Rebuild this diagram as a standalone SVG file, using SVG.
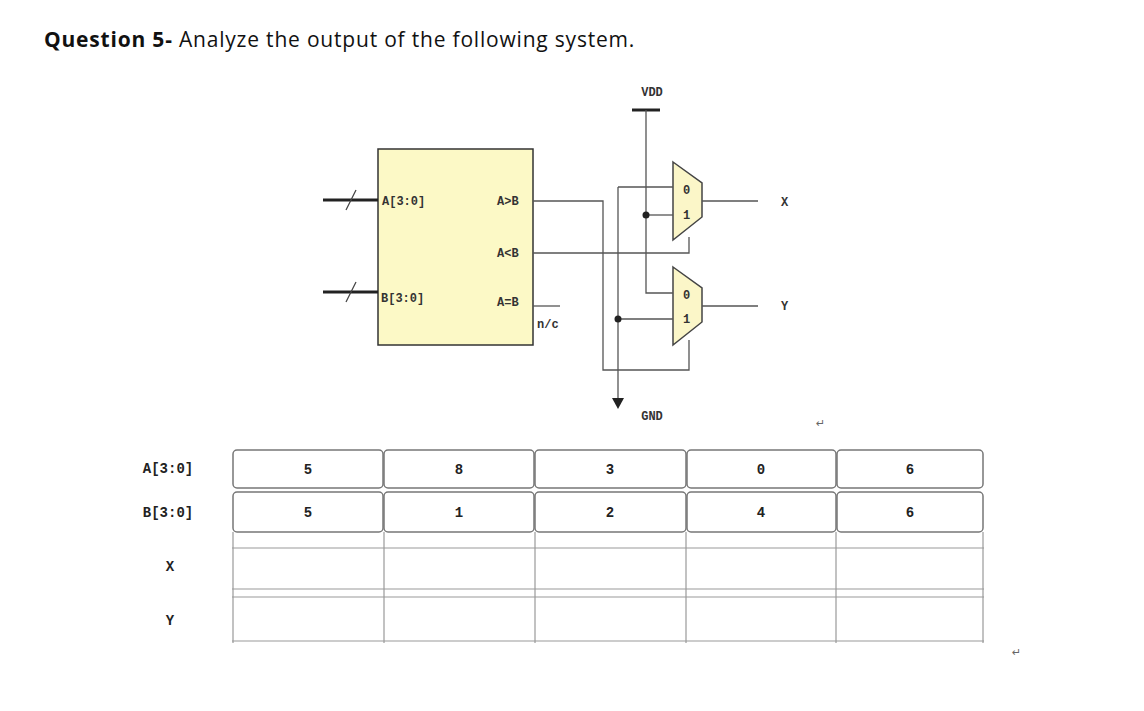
<svg xmlns="http://www.w3.org/2000/svg" width="1144" height="711" viewBox="0 0 1144 711">
<style>
.w{stroke:#555;stroke-width:1.3;fill:none}
.bus{stroke:#222;stroke-width:3;fill:none}
.m{font-family:"Liberation Mono",monospace;font-weight:bold;fill:#333;font-size:12px}
.c{font-family:"Liberation Mono",monospace;font-weight:bold;fill:#222;font-size:14px;text-anchor:middle}
.cell{fill:#fff;stroke:#777;stroke-width:1.5}
.g{stroke:#999;stroke-width:1.2}
.mux{fill:#fbf6c8;stroke:#444;stroke-width:1.5}
</style>
<rect width="1144" height="711" fill="#fff"/>
<text x="44" y="47" font-family="Open Sans,sans-serif" font-size="21" letter-spacing="0.8" fill="#111"><tspan font-weight="bold">Question 5-</tspan> Analyze the output of the following system.</text>
<g id="comparator">
<rect x="378" y="149" width="155" height="196" fill="#fcf9c6" stroke="#333" stroke-width="1.5"/>
<text class="m" x="382" y="205">A[3:0]</text>
<text class="m" x="381" y="302">B[3:0]</text>
<text class="m" x="497" y="205" font-size="10">A&gt;B</text>
<text class="m" x="497" y="257" font-size="10">A&lt;B</text>
<text class="m" x="497" y="306" font-size="10">A=B</text>
</g>
<g id="muxX"><path class="mux" d="M673,162 L702,183 L702,217 L673,240 Z"/><text class="m" x="683" y="194" font-size="10">0</text><text class="m" x="683" y="219" font-size="10">1</text></g>
<g id="muxY"><path class="mux" d="M673,267 L702,288 L702,322 L673,345 Z"/><text class="m" x="683" y="299" font-size="10">0</text><text class="m" x="683" y="323" font-size="10">1</text></g>
<g id="connectors">
<line class="bus" x1="323" y1="200" x2="378" y2="200"/><line x1="346" y1="210" x2="356" y2="190" stroke="#444" stroke-width="1.3"/>
<line class="bus" x1="323" y1="292" x2="378" y2="292"/><line x1="346" y1="302" x2="356" y2="282" stroke="#444" stroke-width="1.3"/>
<polyline class="w" points="533,201 603,201 603,370 689,370 689,340"/>
<polyline class="w" points="533,253 689,253 689,237"/>
<line class="w" x1="533" y1="306" x2="560" y2="306"/>
<line class="w" x1="618" y1="187" x2="618" y2="400"/>
<polygon points="612,398 624,398 618,409" fill="#222"/>
<line class="w" x1="618" y1="187" x2="673" y2="187"/>
<line class="w" x1="618" y1="319" x2="673" y2="319"/>
<circle cx="618" cy="319" r="3.5" fill="#222"/>
<line x1="632" y1="110" x2="660" y2="110" stroke="#222" stroke-width="3"/>
<polyline class="w" points="646,110 646,293 673,293"/>
<line class="w" x1="646" y1="215" x2="673" y2="215"/>
<circle cx="646" cy="215" r="3.5" fill="#222"/>
<line class="w" x1="702" y1="201" x2="758" y2="201"/>
<line class="w" x1="702" y1="306" x2="758" y2="306"/>
</g>
<text class="m" x="537" y="328">n/c</text>
<text class="m" x="652" y="96" font-size="11" text-anchor="middle">VDD</text>
<text class="m" x="652" y="420" font-size="11" text-anchor="middle">GND</text>
<text class="m" x="781" y="206">X</text>
<text class="m" x="781" y="310">Y</text>
<text x="816" y="427" font-family="DejaVu Sans,sans-serif" font-size="11" fill="#666">↵</text>
<text x="1012" y="656" font-family="DejaVu Sans,sans-serif" font-size="11" fill="#666">↵</text>
<g id="table">
<text class="c" x="168" y="473">A[3:0]</text>
<text class="c" x="168" y="517">B[3:0]</text>
<text class="c" x="170" y="571">X</text>
<text class="c" x="170" y="625">Y</text>
<rect class="cell" x="233" y="450" width="150" height="38" rx="4"/><rect class="cell" x="384" y="450" width="150" height="38" rx="4"/><rect class="cell" x="535" y="450" width="151" height="38" rx="4"/><rect class="cell" x="687" y="450" width="149" height="38" rx="4"/><rect class="cell" x="837" y="450" width="146" height="38" rx="4"/>
<rect class="cell" x="233" y="492" width="150" height="40" rx="4"/><rect class="cell" x="384" y="492" width="150" height="40" rx="4"/><rect class="cell" x="535" y="492" width="151" height="40" rx="4"/><rect class="cell" x="687" y="492" width="149" height="40" rx="4"/><rect class="cell" x="837" y="492" width="146" height="40" rx="4"/>
<text class="c" x="308" y="474">5</text><text class="c" x="459" y="474">8</text><text class="c" x="610" y="474">3</text><text class="c" x="761" y="474">0</text><text class="c" x="910" y="474">6</text>
<text class="c" x="308" y="517">5</text><text class="c" x="459" y="517">1</text><text class="c" x="610" y="517">2</text><text class="c" x="761" y="517">4</text><text class="c" x="910" y="517">6</text>
<line class="g" x1="232" y1="548" x2="984" y2="548"/><line class="g" x1="232" y1="589" x2="984" y2="589"/><line class="g" x1="232" y1="597" x2="984" y2="597"/><line class="g" x1="232" y1="641" x2="984" y2="641"/>
<line class="g" x1="233" y1="532" x2="233" y2="643"/><line class="g" x1="384" y1="532" x2="384" y2="643"/><line class="g" x1="535" y1="532" x2="535" y2="643"/><line class="g" x1="686" y1="532" x2="686" y2="643"/><line class="g" x1="836" y1="532" x2="836" y2="643"/><line class="g" x1="983" y1="532" x2="983" y2="643"/>
</g>
</svg>
